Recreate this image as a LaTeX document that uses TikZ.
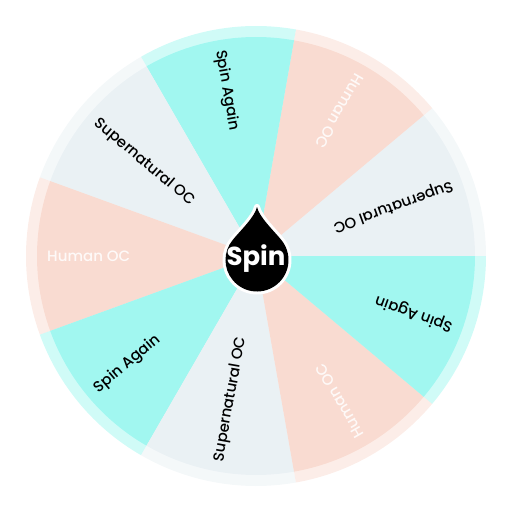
\documentclass[tikz,border=0pt]{standalone}
\usepackage{fontspec}
\setmainfont{Poppins}
\newfontfamily\labelfont{Poppins Medium}

\definecolor{cyanslice}{RGB}{161,247,240}
\definecolor{peachslice}{RGB}{249,219,209}
\definecolor{grayslice}{RGB}{234,241,244}

\begin{document}
\begin{tikzpicture}
  [x=1pt, y=1pt]
  \tikzstyle{rim} = [fill opacity=0.5];
  \tikzstyle{slicetext} = [anchor=west, inner sep=0pt, font=\labelfont\fontsize{15}{15}\selectfont];
  \tikzstyle{dark_text}  = [slicetext, text=black];
  \tikzstyle{light_text} = [slicetext, text=white, text opacity=0.85];

  \useasboundingbox (-256,-256) rectangle (256,256);

  % outer rim
  \fill[grayslice, rim]  (0,0) -- (0:230)   arc[start angle=0,   end angle=40,  radius=230] -- cycle;
  \fill[peachslice, rim] (0,0) -- (40:230)  arc[start angle=40,  end angle=80,  radius=230] -- cycle;
  \fill[cyanslice, rim]  (0,0) -- (80:230)  arc[start angle=80,  end angle=120, radius=230] -- cycle;
  \fill[grayslice, rim]  (0,0) -- (120:230) arc[start angle=120, end angle=160, radius=230] -- cycle;
  \fill[peachslice, rim] (0,0) -- (160:230) arc[start angle=160, end angle=200, radius=230] -- cycle;
  \fill[cyanslice, rim]  (0,0) -- (200:230) arc[start angle=200, end angle=240, radius=230] -- cycle;
  \fill[grayslice, rim]  (0,0) -- (240:230) arc[start angle=240, end angle=280, radius=230] -- cycle;
  \fill[peachslice, rim] (0,0) -- (280:230) arc[start angle=280, end angle=320, radius=230] -- cycle;
  \fill[cyanslice, rim]  (0,0) -- (320:230) arc[start angle=320, end angle=360, radius=230] -- cycle;

  % slices
  \fill[grayslice]  (0,0) -- (0:219)   arc[start angle=0,   end angle=40,  radius=219] -- cycle;
  \fill[peachslice] (0,0) -- (40:219)  arc[start angle=40,  end angle=80,  radius=219] -- cycle;
  \fill[cyanslice]  (0,0) -- (80:219)  arc[start angle=80,  end angle=120, radius=219] -- cycle;
  \fill[grayslice]  (0,0) -- (120:219) arc[start angle=120, end angle=160, radius=219] -- cycle;
  \fill[peachslice] (0,0) -- (160:219) arc[start angle=160, end angle=200, radius=219] -- cycle;
  \fill[cyanslice]  (0,0) -- (200:219) arc[start angle=200, end angle=240, radius=219] -- cycle;
  \fill[grayslice]  (0,0) -- (240:219) arc[start angle=240, end angle=280, radius=219] -- cycle;
  \fill[peachslice] (0,0) -- (280:219) arc[start angle=280, end angle=320, radius=219] -- cycle;
  \fill[cyanslice]  (0,0) -- (320:219) arc[start angle=320, end angle=360, radius=219] -- cycle;

  \node[dark_text, rotate=200]  (super1) at (20:209)  {Supernatural OC};
  \node[light_text, rotate=240] (human1) at (60:209)  {Human OC};
  \node[dark_text, rotate=280]  (again1) at (100:209) {Spin Again};
  \node[dark_text, rotate=320]  (super2) at (140:209) {Supernatural OC};
  \node[light_text, rotate=0]   (human2) at (180:209) {Human OC};
  \node[dark_text, rotate=40]   (again2) at (220:209) {Spin Again};
  \node[dark_text, rotate=80]   (super3) at (260:209) {Supernatural OC};
  \node[light_text, rotate=120] (human3) at (300:209) {Human OC};
  \node[dark_text, rotate=160]  (again3) at (340:209) {Spin Again};

  % button
  \begin{scope}[shift={(1,-4)}]
    \path[preaction={draw=white, line width=6pt, line join=round}, fill=black]
      (40:31.5) arc[start angle=40, end angle=-220, radius=31.5]
      .. controls (-18,28) and (-2,43) .. (0,53)
      .. controls (2,43) and (18,28) .. cycle;
  \end{scope}
  \node[anchor=base, text=white, font=\bfseries\fontsize{26}{26}\selectfont] (spin) at (0,-9) {Spin};

\end{tikzpicture}
\end{document}
